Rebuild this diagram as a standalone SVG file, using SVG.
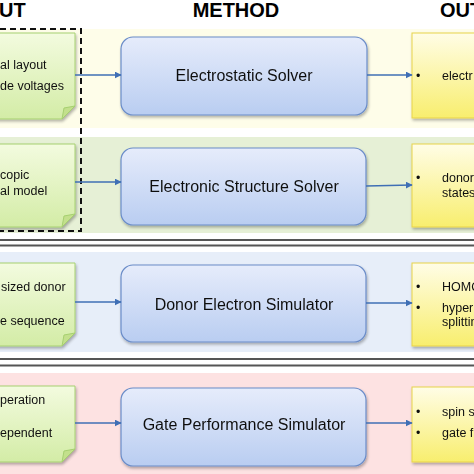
<svg xmlns="http://www.w3.org/2000/svg" width="474" height="474" viewBox="0 0 474 474">
<defs>
<linearGradient id="gBlue" x1="0" y1="0" x2="0" y2="1">
<stop offset="0" stop-color="#e6ecfb"/><stop offset="1" stop-color="#b9cdf1"/>
</linearGradient>
<linearGradient id="gGreen" x1="0" y1="0" x2="0" y2="1">
<stop offset="0" stop-color="#f3fbdf"/><stop offset="1" stop-color="#d3eca6"/>
</linearGradient>
<linearGradient id="gYellow" x1="0" y1="0" x2="0" y2="1">
<stop offset="0" stop-color="#fffde6"/><stop offset="1" stop-color="#f8ee6e"/>
</linearGradient>
<filter id="sh" x="-10%" y="-10%" width="130%" height="130%">
<feGaussianBlur in="SourceAlpha" stdDeviation="1.5"/>
<feOffset dx="1" dy="2" result="b"/>
<feComponentTransfer><feFuncA type="linear" slope="0.3"/></feComponentTransfer>
<feMerge><feMergeNode/><feMergeNode in="SourceGraphic"/></feMerge>
</filter>
<marker id="ah" viewBox="0 0 10 10" refX="9" refY="5" markerWidth="7" markerHeight="7" markerUnits="userSpaceOnUse" orient="auto">
<path d="M0,0 L10,5 L0,10 z" fill="#3f6fb5"/>
</marker>
</defs>
<style>
.title{font-family:"Liberation Sans",Arial,sans-serif;font-weight:bold;font-size:20px;fill:#000}
.m{font-family:"Liberation Sans",Arial,sans-serif;font-size:16px;fill:#111;text-anchor:middle}
.t{font-family:"Liberation Sans",Arial,sans-serif;font-size:12.5px;fill:#111}
.box{fill:url(#gBlue);stroke:#6a8cc8;stroke-width:1.2}
.inn{fill:url(#gGreen);stroke:#a6d070;stroke-width:1}
.fold{fill:#c3e08c;stroke:#a6d070;stroke-width:1}
.out{fill:url(#gYellow);stroke:#e8d34a;stroke-width:1}
.sep{stroke:#555;stroke-width:1.8}
.conn line{stroke:#3f6fb5;stroke-width:1.3;marker-end:url(#ah)}
</style>
<rect width="474" height="474" fill="#fff"/>
<!-- bands -->
<rect x="0" y="29" width="474" height="99" fill="#fefde9"/>
<rect x="0" y="137" width="474" height="96" fill="#e6f0d6"/>
<line class="sep" x1="0" y1="240" x2="474" y2="240"/>
<line class="sep" x1="0" y1="245.5" x2="474" y2="245.5"/>
<rect x="0" y="252" width="474" height="100" fill="#e7eef9"/>
<line class="sep" x1="0" y1="359" x2="474" y2="359"/>
<line class="sep" x1="0" y1="365.5" x2="474" y2="365.5"/>
<rect x="0" y="373" width="474" height="101" fill="#fde2e2"/>
<!-- titles -->
<text class="title" x="-1" y="17">UT</text>
<text class="title" x="236" y="17" text-anchor="middle">METHOD</text>
<text class="title" x="440" y="17">OUT</text>
<!-- dashed group -->
<rect x="-10" y="29" width="91" height="202" fill="none" stroke="#111" stroke-width="2" stroke-dasharray="6,4"/>
<!-- input notes -->
<g id="in1" filter="url(#sh)">
<path class="inn" d="M-10,33 H75 V106 L62,119 H-10 Z"/>
<path class="fold" d="M62,119 L64,108 L75,106 Z"/>
<text class="t" x="0" y="69">al layout</text>
<text class="t" x="0" y="90">de voltages</text>
</g>
<g id="in2" filter="url(#sh)">
<path class="inn" d="M-10,144 H75 V214 L62,227 H-10 Z"/>
<path class="fold" d="M62,227 L64,216 L75,214 Z"/>
<text class="t" x="0" y="179">copic</text>
<text class="t" x="0" y="195">al model</text>
</g>
<g id="in3" filter="url(#sh)">
<path class="inn" d="M-10,263 H75 V333 L62,346 H-10 Z"/>
<path class="fold" d="M62,346 L64,335 L75,333 Z"/>
<text class="t" x="1" y="291">sized donor</text>
<text class="t" x="0" y="325">e sequence</text>
</g>
<g id="in4" filter="url(#sh)">
<path class="inn" d="M-10,386 H75 V449 L62,462 H-10 Z"/>
<path class="fold" d="M62,462 L64,451 L75,449 Z"/>
<text class="t" x="0" y="404">peration</text>
<text class="t" x="0" y="437">ependent</text>
</g>
<!-- method boxes -->
<g id="m1" filter="url(#sh)">
<rect class="box" x="121" y="37" width="246" height="78" rx="12"/>
<text class="m" x="244" y="81">Electrostatic Solver</text>
</g>
<g id="m2" filter="url(#sh)">
<rect class="box" x="121" y="148" width="245" height="77" rx="12"/>
<text class="m" x="244" y="192">Electronic Structure Solver</text>
</g>
<g id="m3" filter="url(#sh)">
<rect class="box" x="121" y="265" width="245" height="77" rx="12"/>
<text class="m" x="244" y="310">Donor Electron Simulator</text>
</g>
<g id="m4" filter="url(#sh)">
<rect class="box" x="121" y="388" width="245" height="78" rx="12"/>
<text class="m" x="244" y="430">Gate Performance Simulator</text>
</g>
<!-- output notes -->
<g id="o1" filter="url(#sh)">
<rect class="out" x="412" y="33" width="80" height="85"/>
<text class="t" x="416" y="80">•</text>
<text class="t" x="442" y="80">electr</text>
</g>
<g id="o2" filter="url(#sh)">
<rect class="out" x="412" y="144" width="80" height="83"/>
<text class="t" x="416" y="182">•</text>
<text class="t" x="442" y="182">donor</text>
<text class="t" x="442" y="197">states</text>
</g>
<g id="o3" filter="url(#sh)">
<rect class="out" x="412" y="263" width="80" height="83"/>
<text class="t" x="416" y="291">•</text>
<text class="t" x="442" y="291">HOMO</text>
<text class="t" x="416" y="312">•</text>
<text class="t" x="442" y="312">hyper</text>
<text class="t" x="442" y="326">splittin</text>
</g>
<g id="o4" filter="url(#sh)">
<rect class="out" x="412" y="387" width="80" height="75"/>
<text class="t" x="416" y="416">•</text>
<text class="t" x="442" y="416">spin s</text>
<text class="t" x="416" y="437">•</text>
<text class="t" x="442" y="437">gate f</text>
</g>
<!-- connectors -->
<g id="connectors" class="conn">
<line x1="75" y1="75" x2="121" y2="75"/>
<line x1="367" y1="75" x2="412" y2="75"/>
<line x1="75" y1="182" x2="121" y2="182"/>
<line x1="366" y1="186" x2="412" y2="185"/>
<line x1="75" y1="302" x2="121" y2="302"/>
<line x1="366" y1="303" x2="412" y2="303"/>
<line x1="75" y1="423" x2="121" y2="423"/>
<line x1="366" y1="423" x2="412" y2="423"/>
</g>
</svg>
